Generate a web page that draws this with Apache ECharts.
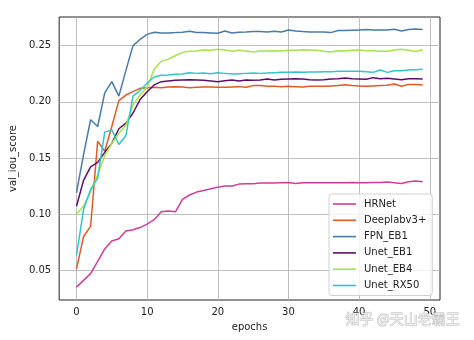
<!DOCTYPE html>
<html>
<head>
<meta charset="utf-8">
<script src="https://cdn.jsdelivr.net/npm/echarts@6/dist/echarts.min.js"></script>
<style>html,body{margin:0;padding:0;background:#fff;}#c{width:474px;height:340px;}</style>
</head>
<body>
<div id="c"></div>
<script>
const epochs = [0,1,2,3,4,5,6,7,8,9,10,11,12,13,14,15,16,17,18,19,20,21,22,23,24,25,26,27,28,29,30,31,32,33,34,35,36,37,38,39,40,41,42,43,44,45,46,47,48,49];
const xTicks = [0,10,20,30,40,50];
const yTicks = [0.05,0.10,0.15,0.20,0.25];
const seriesNames = ['HRNet','Deeplabv3+','FPN_EB1','Unet_EB1','Unet_EB4','Unet_RX50'];

const hrnet = [0.035,0.041,0.047,0.058,0.069,0.076,0.078,0.085,0.086,0.088,0.091,0.095,0.102,0.1027,0.102,0.113,0.117,0.1196,0.121,0.1226,0.1238,0.125,0.125,0.1267,0.127,0.127,0.1276,0.1276,0.1276,0.1279,0.1282,0.1273,0.1279,0.1279,0.1279,0.1279,0.1279,0.1279,0.1279,0.1282,0.1279,0.1279,0.1282,0.1282,0.1285,0.1279,0.1273,0.1288,0.1294,0.1288];
const deeplab = [0.051,0.080,0.089,0.165,0.156,0.178,0.201,0.206,0.209,0.212,0.2125,0.2129,0.2126,0.2132,0.2135,0.2132,0.2126,0.2129,0.2132,0.2132,0.2129,0.2129,0.2132,0.2135,0.2129,0.2144,0.2144,0.2138,0.2138,0.2135,0.2138,0.2135,0.2132,0.2138,0.2138,0.2138,0.2141,0.2144,0.2152,0.2144,0.2141,0.2138,0.2141,0.2144,0.2147,0.2159,0.2138,0.2155,0.2155,0.2149];
const fpnEb1 = [0.119,0.153,0.184,0.178,0.208,0.218,0.205,0.228,0.250,0.2555,0.260,0.2619,0.2613,0.2613,0.2616,0.262,0.2628,0.2616,0.2616,0.2613,0.261,0.263,0.2613,0.262,0.2622,0.2625,0.2625,0.2622,0.2628,0.2622,0.264,0.263,0.2625,0.2622,0.2622,0.2622,0.2616,0.2634,0.2634,0.2637,0.264,0.2643,0.264,0.264,0.264,0.2646,0.2631,0.2643,0.2649,0.2643];
const unetEb1 = [0.107,0.130,0.142,0.146,0.155,0.163,0.176,0.181,0.190,0.202,0.209,0.215,0.2179,0.2185,0.2191,0.2194,0.2197,0.2194,0.2191,0.2185,0.2179,0.2188,0.2194,0.2185,0.2194,0.2191,0.2194,0.2203,0.2194,0.22,0.2203,0.2206,0.2203,0.2197,0.2194,0.2197,0.2203,0.2206,0.2212,0.2206,0.2203,0.22,0.2215,0.2206,0.2209,0.2203,0.2197,0.2206,0.2206,0.2203];
const unetEb4 = [0.100,0.107,0.120,0.135,0.152,0.163,0.172,0.179,0.197,0.206,0.213,0.229,0.236,0.238,0.241,0.244,0.245,0.2452,0.2461,0.2458,0.2467,0.2461,0.245,0.2458,0.2452,0.2444,0.2452,0.2452,0.2455,0.2452,0.2458,0.2458,0.2464,0.2461,0.2458,0.245,0.2444,0.2455,0.2452,0.2458,0.2461,0.2455,0.2455,0.245,0.245,0.2461,0.2467,0.2458,0.2447,0.2464];
const unetRx50 = [0.063,0.104,0.122,0.132,0.173,0.175,0.162,0.170,0.205,0.210,0.2167,0.2221,0.2236,0.2239,0.2245,0.2247,0.2259,0.2253,0.2256,0.225,0.2259,0.2253,0.2247,0.225,0.2253,0.2256,0.2253,0.2256,0.2259,0.2262,0.2262,0.2265,0.2262,0.2265,0.2265,0.2268,0.2268,0.2271,0.2271,0.2271,0.2271,0.2268,0.2262,0.2283,0.2262,0.2277,0.2277,0.2283,0.2286,0.2289];

const seriesValues = [hrnet, deeplab, fpnEb1, unetEb1, unetEb4, unetRx50];
const colors = ['#cf3d9a','#e05a28','#4a7ba7','#5b0f6b','#a6e34a','#30c6c9'];

const font = 'DejaVu Sans';
const chart = echarts.init(document.getElementById('c'), null, {renderer:'canvas'});
chart.setOption({
  animation: false,
  backgroundColor: '#fff',
  color: colors,
  grid: {left: 59, right: 34, top: 17, bottom: 40, show: true, borderColor: '#222', borderWidth: 1, backgroundColor: 'transparent'},
  xAxis: {
    type: 'value', min: -2.45, max: 51.45,
    name: 'epochs', nameLocation: 'middle', nameGap: 22,
    nameTextStyle: {fontFamily: font, fontSize: 10, color: '#222'},
    axisLine: {show: false},
    axisTick: {show: false, customValues: xTicks},
    axisLabel: {customValues: xTicks, fontFamily: font, fontSize: 10, color: '#222', margin: 7},
    splitLine: {show: true, lineStyle: {color: '#b0b0b0', width: 0.8}}
  },
  yAxis: {
    type: 'value', min: 0.0235, max: 0.2755,
    name: 'val_iou_score', nameLocation: 'middle', nameGap: 34,
    nameTextStyle: {fontFamily: font, fontSize: 10, color: '#222'},
    axisLine: {show: false},
    axisTick: {show: false, customValues: yTicks},
    axisLabel: {customValues: yTicks, fontFamily: font, fontSize: 10, color: '#222', margin: 8,
      formatter: v => v.toFixed(2)},
    splitLine: {show: true, lineStyle: {color: '#b0b0b0', width: 0.8}}
  },
  legend: {
    orient: 'vertical', left: 329, top: 194,
    data: seriesNames,
    icon: 'rect',
    itemWidth: 23, itemHeight: 1.6, itemGap: 2.3,
    padding: [3, 6, 3, 4],
    backgroundColor: 'rgba(255,255,255,0.8)', borderColor: '#d0d0d0', borderWidth: 1, borderRadius: 3,
    textStyle: {fontFamily: font, fontSize: 10, lineHeight: 14, color: '#222', padding: [0,0,0,3]}
  },
  graphic: [{
    type: 'text', left: 345, top: 311, z: 100,
    style: {text: '知乎 @天山老霸王', font: '14px "Noto Sans CJK SC"', fill: 'rgba(240,240,240,0.9)', stroke: 'rgba(170,170,170,0.8)', lineWidth: 0.8}
  }],
  series: seriesNames.map((n, i) => ({
    name: n, type: 'line', symbol: 'none',
    data: epochs.map((e, j) => [e, seriesValues[i][j]]),
    lineStyle: {width: 1.5, color: colors[i]},
    itemStyle: {color: colors[i]}
  }))
});
</script>
</body>
</html>
